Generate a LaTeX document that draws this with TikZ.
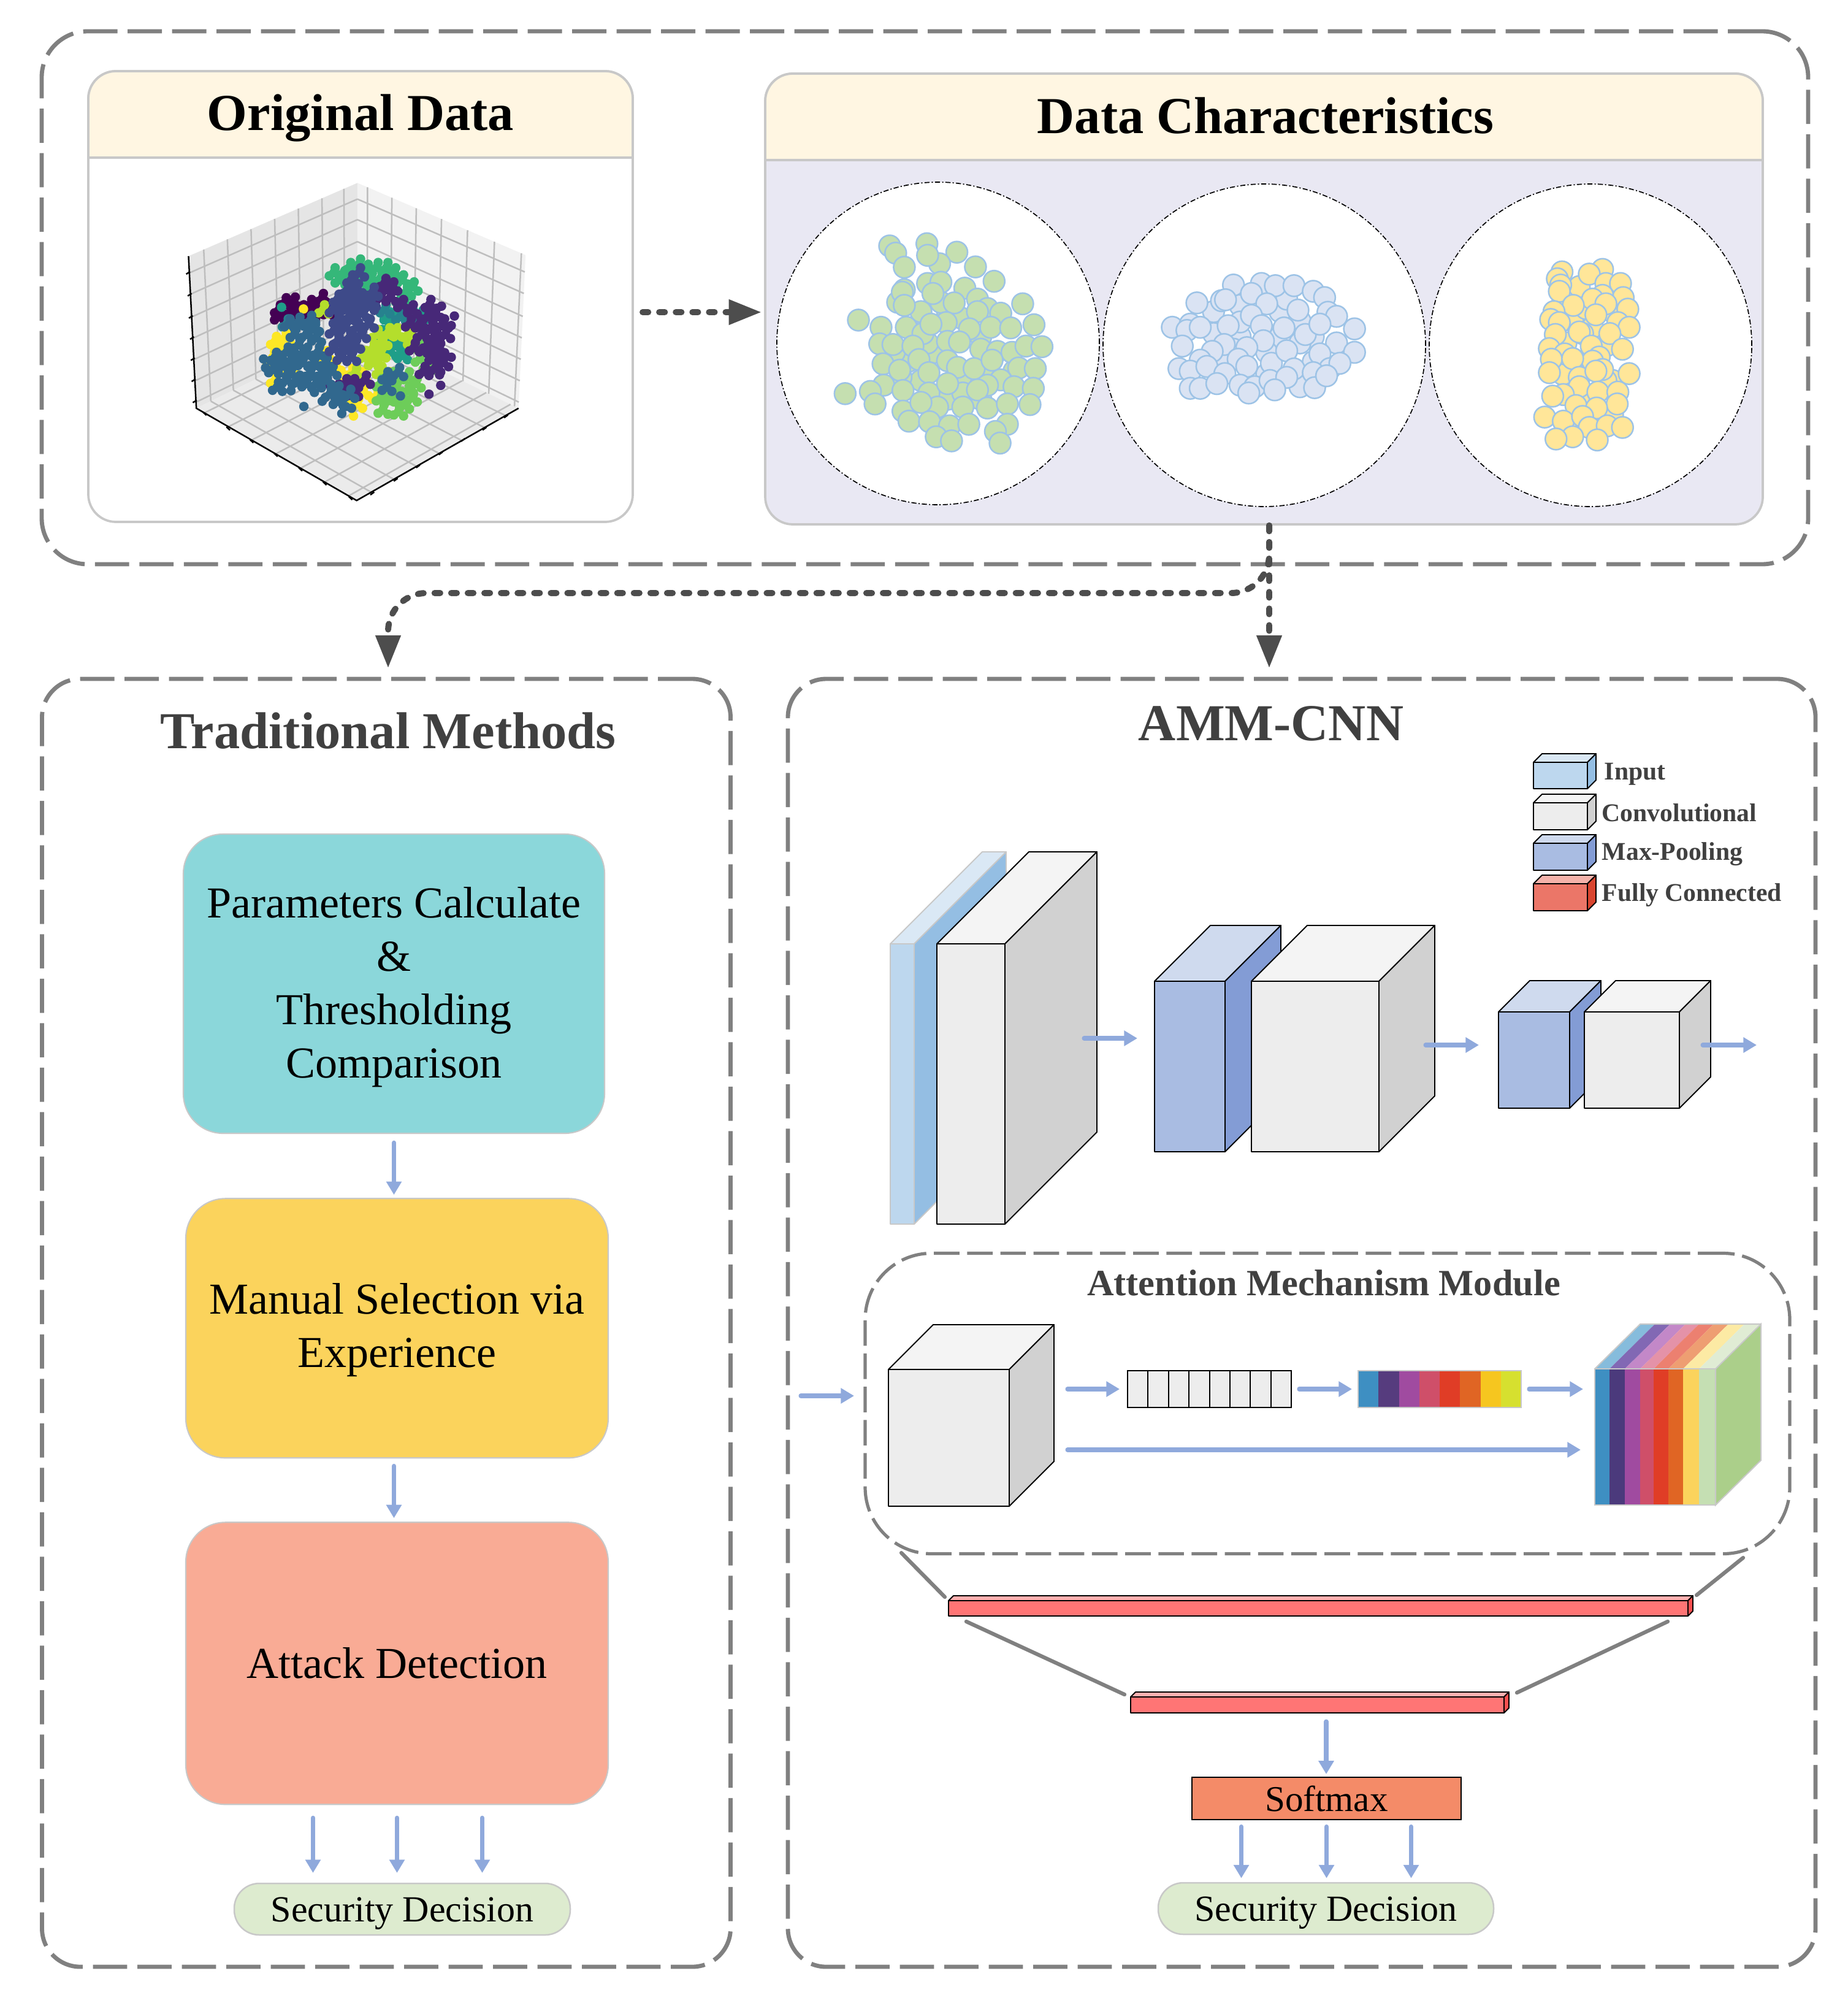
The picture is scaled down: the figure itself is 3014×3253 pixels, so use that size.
\documentclass[tikz,border=0pt]{standalone}
\usepackage{fontspec}
\setmainfont{Liberation Serif}
\usetikzlibrary{arrows.meta,calc,positioning}

\def\px{0.24pt}
\definecolor{boxgray}{HTML}{C8C8C8}
\definecolor{framegray}{HTML}{808080}
\definecolor{flowdark}{HTML}{4D4D4D}
\definecolor{thinblue}{HTML}{8FA9DC}
\definecolor{textgray}{HTML}{404040}
\definecolor{cream}{HTML}{FFF6E2}
\definecolor{lavender}{HTML}{E9E8F3}
\definecolor{decisiongreen}{HTML}{DDEBCF}
\definecolor{plotline}{HTML}{BEBEBE}
\definecolor{stepteal}{HTML}{8BD7DA}
\definecolor{stepyellow}{HTML}{FBD35C}
\definecolor{stepsalmon}{HTML}{F9AB95}
\definecolor{softorange}{HTML}{F48B68}
\definecolor{sliceside}{HTML}{ABCF8A}
\definecolor{dotgreen}{HTML}{C5DFB0}
\definecolor{dotblue}{HTML}{DAE3F3}
\definecolor{dotyellow}{HTML}{FFE699}
\definecolor{dotedge}{HTML}{9DC3E6}
\definecolor{vdeep}{HTML}{440154}
\definecolor{vpurple}{HTML}{472878}
\definecolor{vblue}{HTML}{3E4A89}
\definecolor{vsteel}{HTML}{31688E}
\definecolor{vteal}{HTML}{26828E}
\definecolor{vmint}{HTML}{1F9E89}
\definecolor{vgreen}{HTML}{35B779}
\definecolor{vleaf}{HTML}{6DCD59}
\definecolor{vlime}{HTML}{B4DE2C}
\definecolor{vyellow}{HTML}{FDE725}
\definecolor{inputfront}{HTML}{BDD7EE}\definecolor{inputtop}{HTML}{DAE8F5}\definecolor{inputside}{HTML}{94BEE3}
\definecolor{convfront}{HTML}{EDEDED}\definecolor{convtop}{HTML}{F4F4F4}\definecolor{convside}{HTML}{D1D1D1}
\definecolor{poolfront}{HTML}{A9BCE2}\definecolor{pooltop}{HTML}{CFDAEE}\definecolor{poolside}{HTML}{839CD5}
\definecolor{densefront}{HTML}{EB7668}\definecolor{densetop}{HTML}{F4B2AA}\definecolor{denseside}{HTML}{D9452F}
\definecolor{fcbarfront}{HTML}{FF7575}\definecolor{fcbartop}{HTML}{FFB0B0}\definecolor{fcbarside}{HTML}{FF4F4F}

\tikzset{
  frame/.style={draw=framegray,line width=1.65pt,dash pattern=on 13.4pt off 4pt,rectangle,inner sep=0pt},
  panel/.style={draw=boxgray,line width=0.9pt,rectangle,rounded corners=10.8pt,inner sep=0pt},
  stepbox/.style={draw=boxgray,line width=0.5pt,rectangle,rounded corners=15.5pt,inner sep=0pt,align=center,
    font=\fontsize{17.3}{20.9}\selectfont},
  decision/.style={draw=boxgray,line width=0.6pt,fill=decisiongreen,rectangle,rounded corners=9.8pt,inner sep=0pt,
    text height=10.7pt,text depth=1pt,font=\fontsize{14.4}{17}\selectfont},
  heading/.style={font=\fontsize{20.3}{24}\selectfont\bfseries,inner sep=0pt},
  legendtext/.style={font=\fontsize{10}{12}\selectfont\bfseries,text=textgray,inner sep=0pt,anchor=west},
  flow/.style={draw=flowdark,line width=2.4pt,line cap=round,dash pattern=on 2.2pt off 4.3pt,
    -{Triangle[length=12.8pt,width=9.4pt,fill=flowdark,sep=0pt]}},
  thin arrow/.style={draw=thinblue,line width=1.7pt,line cap=round,-{Triangle[length=5.2pt,width=5.8pt]}},
  funnel/.style={draw=framegray,line width=1.5pt,line cap=round},
  plotgrid/.style={draw=plotline,line width=0.6pt},
  plotaxis/.style={draw=black,line width=0.6pt},
  lens/.style={draw=black,fill=white,line width=0.4pt,dash pattern=on 2pt off 0.8pt on 0.5pt off 0.8pt,circle,
    minimum size=526*\px,inner sep=0pt},
}

% name, x, y, width, height, depth, colour family
\newcommand{\cuboid}[8][black]{
  \filldraw[draw=#1,fill=#8front,line width=0.45pt,line join=round] (#3,#4) rectangle ++(#5,#6);
  \filldraw[draw=#1,fill=#8top,line width=0.45pt,line join=round] (#3,#4) -- ++(#7,-#7) -- ++(#5,0) -- ++(-#7,#7) -- cycle;
  \filldraw[draw=#1,fill=#8side,line width=0.45pt,line join=round] ({#3+#5},#4) -- ++(#7,-#7) -- ++(0,#6) -- ++(-#7,#7) -- cycle;
  \coordinate (#2) at (#3,#4);
}
\newcommand{\cluster}[3]{
  \foreach \a/\b in {#3} \filldraw[#1] (\a,\b) circle (#2);
}
\newcommand{\cloud}[2]{
  \foreach \a/\b in {#2} {
    \fill[fill=#1] (\a+13,\b+12) circle (1.85pt);
    \fill[fill=#1] (\a-12,\b+9) circle (1.85pt);
    \fill[fill=#1] (\a+3,\b-14) circle (1.85pt);
    \fill[fill=#1] (\a,\b) circle (1.85pt);
  }
}

\begin{document}
\begin{tikzpicture}[x=0.24pt,y=-0.24pt]
  \useasboundingbox (0,0) rectangle (3014,3253);

  %frames
  \node[frame,rounded corners=18pt,minimum width=2881*\px,minimum height=869*\px] (topframe) at (1508.5,485.5) {};
  \node[frame,rounded corners=15pt,minimum width=1123*\px,minimum height=2100*\px] (tradframe) at (630,2157) {};
  \node[frame,rounded corners=15pt,minimum width=1676*\px,minimum height=2100*\px] (ammframe) at (2123,2157) {};

  %original data
  \node[panel,fill=white,minimum width=888*\px,minimum height=735*\px] (origin) at (588,483.5) {};
  \filldraw[draw=boxgray,fill=cream,line width=0.9pt] (144,257) [rounded corners=10.8pt] -- (144,116) -- (1032,116) [sharp corners] -- (1032,257) -- cycle;
  \node[heading] (origintitle) at (588,192) {Original Data};

  \begin{scope}[shift={(60,40)},x=0.15306pt,y=-0.13777pt]
    \coordinate (wl) at (388,658);
    \coordinate (wm) at (820,450);
    \coordinate (wr) at (1250,655);
    \coordinate (fl) at (408,1090);
    \coordinate (fb) at (820,867);
    \coordinate (fr) at (1232,1090);
    \coordinate (ff) at (818,1352);
    \fill[fill=black!10] (wl) -- (wm) -- (fb) -- (fl) -- cycle;
    \fill[fill=black!5] (wm) -- (wr) -- (fr) -- (fb) -- cycle;
    \fill[fill=black!8] (fl) -- (fb) -- (fr) -- (ff) -- cycle;
    \foreach \t in {.09,.23,.37,.51,.65,.79,.92}
      \draw[plotgrid] ($(wl)!\t!(wm)$) -- ($(fl)!\t!(fb)$);
    \foreach \t in {.06,.205,.35,.5,.655,.815,.975}
      \draw[plotgrid] ($(wm)!\t!(wr)$) -- ($(fb)!\t!(fr)$);
    \foreach \t in {.11,.25,.40,.54,.68,.82,.96} {
      \draw[plotgrid] ($(wl)!\t!(fl)$) -- ($(wm)!\t!(fb)$);
      \draw[plotgrid] ($(wm)!\t!(fb)$) -- ($(wr)!\t!(fr)$);
    }
    \foreach \t in {.05,.2,.345,.495,.65,.8,.95}
      \draw[plotgrid] ($(fl)!\t!(ff)$) -- ($(fb)!\t!(fr)$);
    \foreach \t in {.09,.23,.37,.51,.65,.79,.92}
      \draw[plotgrid] ($(ff)!\t!(fr)$) -- ($(fl)!\t!(fb)$);
    \draw[plotaxis] (wl) -- (fl) -- (ff) -- (fr);
    \foreach \a/\b in {388/705,392/767,395/830,398/890,400/950,402/1010,405/1070}
      \draw[plotaxis] (\a-6,\b+4) -- (\a+4,\b-3);
    \foreach \a/\b in {430/1105,490/1147,550/1183,612/1222,675/1263,737/1303,803/1345}
      \draw[plotaxis] (\a-5,\b-4) -- (\a+4,\b+5);
    \foreach \a/\b in {858/1332,918/1293,975/1255,1033/1218,1090/1180,1145/1148,1200/1113}
      \draw[plotaxis] (\a+5,\b-4) -- (\a-5,\b+4);

    \cloud{vgreen}{825/680,800/690,845/695,870/690,895/690,915/705,935/725,760/705,790/710,820/710,850/720,880/720,905/730,945/760,962/745,930/780,860/745,830/730,800/730,775/725}
    \cloud{vdeep}{635/790,658/788,620/810,650/820,680/810,700/795,715/810,735/800,730/778,620/830,660/835,700/825,745/815}
    \cloud{vmint}{900/830,925/820,960/825,985/825,900/860,915/900,940/910,880/880,935/940,905/930}
    \cloud{vteal}{890/810,930/830,960/845,1000/830,640/850}
    \cloud{vyellow}{610/900,620/920,600/960,635/890,610/1010,650/980,820/1078,800/1065,835/1042,870/1055,790/1010,805/990,830/1000,740/940,765/970,900/1000}
    \cloud{vlime}{733/810,870/880,900/875,920/875,950/880,960/900,885/900,860/920,840/940,860/945,880/935,860/960,815/990,880/985}
    \cloud{vleaf}{880/1020,950/1000,970/1020,920/1030,960/1060,900/1060,940/1080,925/1100,885/1095,880/1060,980/950,1000/970,985/915,950/1040,910/1000,920/1060}
    \cloud{vpurple}{1005/795,1020/820,1000/830,980/850,1010/860,1040/850,985/880,1015/890,1045/880,1000/910,1030/920,1015/945,1040/960,1020/975,990/985,965/918,955/850,890/735,910/745,880/775,905/775,935/795,960/810,1010/925,790/1020,810/1020,840/1010,810/1045,770/1035,740/1020}
    \cluster{fill=vmint,draw=none}{1.85pt}{626/803}
    \cluster{fill=vyellow,draw=none}{1.85pt}{682/808,810/1112}
    \cluster{fill=vpurple,draw=none}{1.85pt}{1035/800,1068/828,1060/855,1060/945,1030/995,1033/1025,1003/1050}
    \cloud{vsteel}{645/850,670/845,700/840,710/860,660/880,690/880,715/890,670/910,640/930,660/950,690/930,720/930,610/945,605/980,630/970,650/990,680/960,710/960,740/960,755/985,730/990,700/990,670/1010,640/1010,615/1030,690/1020,715/1020,740/1010,770/1040,750/1050,770/1070,895/1000,925/988,895/1030,800/1050}
    \cluster{fill=vsteel,draw=none}{1.85pt}{580/950,585/975,650/1040,710/1045,730/1070,790/1085,805/1090,683/1085,780/1105,930/1055}
    \cloud{vblue}{825/705,805/725,820/750,795/755,770/780,760/810,790/770,810/780,830/790,850/800,770/800,800/800,830/820,800/830,770/840,850/850,820/860,790/860,760/870,830/880,800/890,770/900,760/920,790/920,815/910,780/945,805/945,855/790,860/760}
  \end{scope}

  %data characteristics
  \node[panel,fill=lavender,minimum width=1627*\px,minimum height=735*\px] (datachar) at (2061.5,487.5) {};
  \filldraw[draw=boxgray,fill=cream,line width=0.9pt] (1248,261) [rounded corners=10.8pt] -- (1248,120) -- (2875,120) [sharp corners] -- (2875,261) -- cycle;
  \node[heading] (datatitle) at (2064,189) {Data Characteristics};
  \node[lens] (lensa) at (1530,560) {};
  \node[lens] (lensb) at (2062,563) {};
  \node[lens] (lensc) at (2594,563) {};

  \begin{scope}[shift={(1220,100)},x=0.2603pt,y=-0.12245pt]
    \cluster{fill=dotgreen,draw=dotedge,line width=0.6pt}{4.2pt}{260/800,300/800,250/870,225/770,290/770,320/820,350/880,280/930,240/960,260/1020,320/1010,360/990,400/990,230/1010,300/1080,350/1080,280/1140,220/930,270/900,213/590,222/613,269/583,314/610,235/658,288/647,270/620,342/657,370/703,270/710,290/706,326/725,235/730,232/738,278/742,310/772,345/760,413/775,360/790,235/780,345/800,380/805,166/827,200/850,238/850,263/870,298/835,275/840,365/850,395/852,430/842,333/855,198/903,218/905,248/910,300/895,318/897,350/920,375/927,397/930,418/910,442/912,203/967,228/987,257/953,300/957,315/978,340/982,367/955,407/980,432/982,272/995,380/1018,204/1035,184/1055,146/1062,233/1052,272/1060,323/1060,300/1030,360/1035,400/1040,429/1045,345/1050,191/1095,233/1118,285/1105,323/1105,360/1108,390/1095,424/1097,260/1090,242/1150,273/1152,303/1165,332/1160,390/1160,283/1200,306/1213,372/1183,379/1220}
    \cluster{fill=dotblue,draw=dotedge,line width=0.6pt}{4.2pt}{700/800,800/800,830/830,700/870,740/880,800/880,850/880,730/920,780/930,830/900,850/960,780/1000,720/960,830/1040,740/780,810/760,730/715,772/710,793/717,821/717,850/735,867/755,675/772,712/765,718/762,757/742,780/775,827/795,872/802,885/815,740/833,757/812,722/845,772/845,806/852,838/873,860/840,912/855,638/850,665/840,660/860,680/850,653/910,716/905,698/927,775/893,750/915,885/900,912/930,737/952,787/965,680/955,810/925,860/935,648/982,665/990,690/975,717/998,750/975,821/983,875/982,890/965,850/995,665/1045,680/1045,705/1030,740/1035,762/1040,785/1020,810/1010,792/1050,852/1043,753/1060,870/1005}
    \cluster{fill=dotyellow,draw=dotedge,line width=0.6pt}{4.2pt}{1250/720,1300/800,1240/830,1270/850,1230/900,1290/910,1240/990,1300/1020,1225/1000,1250/1070,1300/1130,1270/1140,1240/1160,1290/1020,1220/790,1260/790,1224/673,1285/665,1265/680,1217/695,1222/715,1290/710,1312/710,1220/735,1316/755,1285/748,1270/760,1241/780,1323/792,1290/775,1212/800,1207/825,1220/835,1275/810,1308/835,1325/850,1214/873,1255/870,1250/865,1296/870,1268/910,1205/918,1315/920,1228/935,1280/945,1208/952,1270/958,1240/950,1205/995,1250/1010,1285/985,1325/998,1275/990,1250/1040,1278/1057,1308/1057,1226/1065,1210/1070,1307/1095,1245/1100,1276/1108,1198/1137,1226/1150,1255/1135,1265/1170,1292/1165,1315/1170,1240/1200,1215/1207,1277/1210}
  \end{scope}

  %flow between the frames
  \coordinate (flowy) at (0,509);
  \coordinate (branch) at (633,967);
  \coordinate (drop) at ([xshift=2.04pt]datachar.south);
  \draw[flow,shorten <=3.4pt,shorten >=1pt] (origin.east |- flowy) -- (datachar.west |- flowy);
  \draw[flow,shorten >=3.4pt] (drop) -- (drop |- ammframe.north);
  \draw[flow,rounded corners=15pt,shorten >=3.4pt] (drop) -- (drop |- branch) -- (branch) -- (branch |- tradframe.north);

  %traditional methods
  \node[heading,text=textgray] (tradtitle) at (633,1192) {Traditional Methods};
  \node[stepbox,fill=stepteal,minimum width=687*\px,minimum height=488*\px] (param) at (642.5,1604) {\rule{0pt}{14.7pt}Parameters Calculate\\\&\\Thresholding\\Comparison};
  \node[stepbox,fill=stepyellow,minimum width=689*\px,minimum height=423*\px,below=25pt of param,xshift=1.2pt] (manual) {\rule{0pt}{13.4pt}Manual Selection via\\Experience};
  \node[stepbox,fill=stepsalmon,minimum width=689*\px,minimum height=460*\px,below=24.7pt of manual] (attack) {Attack Detection};
  \node[decision,minimum width=548*\px,minimum height=84*\px] (traddecision) at (656,3113) {Security Decision};

  \draw[thin arrow,shorten <=3.4pt,shorten >=1.2pt] (param.south) -- (param.south |- manual.north);
  \draw[thin arrow,shorten <=2.9pt,shorten >=1.4pt] (param.south |- manual.south) -- (param.south |- attack.north);
  \foreach \x in {-137,0,139}
    \draw[thin arrow,shorten <=5pt,shorten >=3.8pt] ([xshift=\x*\px]attack.south) -- ([xshift=\x*\px]attack.south |- traddecision.north);

  %amm-cnn
  \node[heading,text=textgray] (ammtitle) at (2073,1180) {AMM-CNN};

  \cuboid{legendinput}{2501}{1243}{88}{43}{14}{input}
  \cuboid{legendconv}{2501}{1309}{88}{44}{14}{conv}
  \cuboid{legendpool}{2501}{1375}{88}{44}{14}{pool}
  \cuboid{legenddense}{2501}{1441}{88}{44}{14}{dense}
  \node[legendtext] (inputlabel) at (2616,1262) {Input};
  \node[legendtext] (convlabel) at (2612,1325) {Convolutional};
  \node[legendtext] (poollabel) at (2612,1393) {Max-Pooling};
  \node[legendtext] (denselabel) at (2612,1460) {Fully Connected};

  \cuboid[boxgray]{inputa}{1452}{1539}{39}{457}{150}{input}
  \cuboid{conva}{1528}{1539}{111}{457}{150}{conv}
  \cuboid{poolb}{1883}{1600}{115}{278}{91}{pool}
  \cuboid{convb}{2041}{1600}{208}{278}{91}{conv}
  \cuboid{poolc}{2444}{1650}{116}{157}{51}{pool}
  \cuboid{convc}{2584}{1650}{155}{157}{51}{conv}

  \coordinate (aout) at (1768,1693);
  \coordinate (bin) at (1855,1693);
  \coordinate (bout) at (2325,1704);
  \coordinate (cin) at (2412,1704);
  \coordinate (cout) at (2777,1704);
  \coordinate (cend) at (2865,1704);
  \draw[thin arrow] (aout) -- (bin);
  \draw[thin arrow] (bout) -- (cin);
  \draw[thin arrow] (cout) -- (cend);

  %attention module
  \node[frame,line width=1.25pt,dash pattern=on 10pt off 3pt,rounded corners=26pt,minimum width=1508*\px,minimum height=490*\px] (attframe) at (2165,2288.5) {};
  \node[font=\fontsize{14.5}{17}\selectfont\bfseries,text=textgray,inner sep=0pt] (atttitle) at (2159,2092) {Attention Mechanism Module};

  \cuboid{attconv}{1449}{2233}{197}{223}{73}{conv}

  \foreach \i in {0,...,7}
    \draw[draw=black,fill=convfront,line width=0.45pt] ({1839+\i*33.4},2235) rectangle ++(33.4,60);
  \coordinate (stripa) at (1839,2265);
  \coordinate (stripb) at (2106,2265);
  \foreach \i/\c in {0/3E8FC2,1/563C7E,2/A04BA0,3/CF4F69,4/E03D26,5/E06524,6/F6C61F,7/D6E02F} {
    \definecolor{cellcolor}{HTML}{\c}
    \fill[fill=cellcolor] ({2215+\i*33.25},2235) rectangle ++(33.25,60);
  }
  \draw[draw=boxgray,line width=0.5pt] (2215,2235) rectangle (2481,2295);
  \coordinate (weighta) at (2215,2265);
  \coordinate (weightb) at (2481,2265);

  \foreach \xa/\xb/\cf/\ct in {2601/2625/3E8FC2/86BCDC,2625/2650/4B3A7C/8268B4,2650/2675/A04BA0/C388C8,2675/2697/CF4F69/E492A8,2697/2721/E03D26/EC8070,2721/2745/E06524/EE9E72,2745/2771/FBD35C/FCEAA4,2771/2798/C5DFB3/E0ECD4} {
    \definecolor{slicefront}{HTML}{\cf}
    \definecolor{slicetop}{HTML}{\ct}
    \fill[fill=slicefront] (\xa,2232) rectangle (\xb,2454);
    \fill[fill=slicetop] (\xa,2232) -- ++(74,-73) -- ({\xb+74},2159) -- (\xb,2232) -- cycle;
  }
  \filldraw[draw=boxgray,fill=sliceside,line width=0.5pt] (2798,2232) -- ++(74,-73) -- ++(0,222) -- ++(-74,73) -- cycle;
  \draw[draw=boxgray,line width=0.5pt] (2601,2232) -- ++(74,-73) -- ++(197,0);
  \draw[draw=boxgray,line width=0.5pt] (2601,2232) rectangle (2798,2454);
  \coordinate (attendin) at (2582,2265);
  \coordinate (attendlow) at (2578,2364);
  \coordinate (attconvout) at (1741,2265);
  \coordinate (attconvlow) at (1741,2364);
  \coordinate (attin) at (1306,2276);
  \coordinate (attinend) at (1393,2276);

  \draw[thin arrow] (attin) -- (attinend);
  \draw[thin arrow,shorten >=3.1pt] (attconvout) -- (stripa);
  \draw[thin arrow,shorten <=3.1pt,shorten >=2.4pt] (stripb) -- (weighta);
  \draw[thin arrow,shorten <=3.1pt] (weightb) -- (attendin);
  \draw[thin arrow] (attconvlow) -- (attendlow);

  %fully connected part
  \cuboid{fca}{1547}{2610}{1206}{25}{8}{fcbar}
  \cuboid{fcb}{1844}{2767}{609}{26}{8}{fcbar}
  \coordinate (funnela) at (1470,2532);
  \coordinate (funnelb) at (1541,2604);
  \coordinate (funnelc) at (2843,2540);
  \coordinate (funneld) at (2767,2601);
  \coordinate (funnele) at (1576,2644);
  \coordinate (funnelf) at (1834,2763);
  \coordinate (funnelg) at (2720,2644);
  \coordinate (funnelh) at (2474,2760);
  \draw[funnel] (funnela) -- (funnelb);
  \draw[funnel] (funnelc) -- (funneld);
  \draw[funnel] (funnele) -- (funnelf);
  \draw[funnel] (funnelg) -- (funnelh);

  \node[draw=black,fill=softorange,line width=0.5pt,rectangle,inner sep=0pt,minimum width=439*\px,minimum height=69*\px,font=\fontsize{14.2}{17}\selectfont] (softmax) at (2163.5,2932.5) {Softmax};
  \node[decision,minimum width=547*\px,minimum height=84*\px] (ammdecision) at (2162.5,3112) {Security Decision};
  \coordinate (fcbout) at (2163,2807);
  \draw[thin arrow,shorten >=1pt] (fcbout) -- (fcbout |- softmax.north);
  \foreach \x in {-139,0,138}
    \draw[thin arrow,shorten <=2.5pt,shorten >=1.5pt] ([xshift=\x*\px]softmax.south) -- ([xshift=\x*\px]softmax.south |- ammdecision.north);
\end{tikzpicture}
\end{document}
